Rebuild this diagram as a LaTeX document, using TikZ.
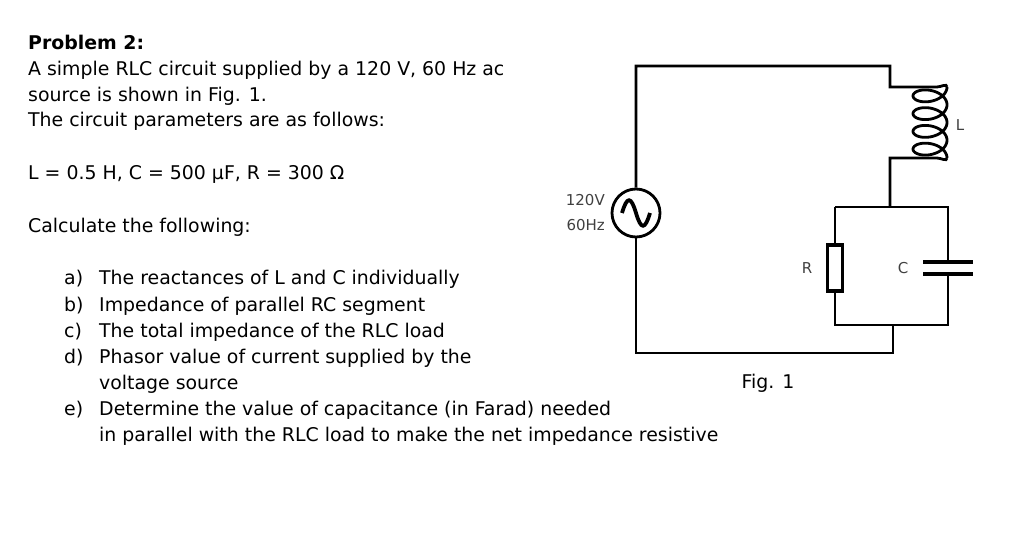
\documentclass[tikz,border=0pt]{standalone}
\usepackage{fontspec}
\setmainfont{DejaVu Sans}
\begin{document}
\begin{tikzpicture}[x=1pt,y=-1pt,
  txt/.style={anchor=base west,inner sep=0,font=\fontsize{18.9}{22}\selectfont},
  lbl/.style={inner sep=0,font=\fontsize{15}{17}\selectfont\color{black!75}},
  wire/.style={line width=2.8pt}]
\useasboundingbox (0,0) rectangle (1024,534);
\node[txt,font=\fontsize{18.9}{22}\selectfont\bfseries] (t0) at (28,50) {Problem 2:};
\node[txt] (t1) at (28,76) {A simple RLC circuit supplied by a 120 V, 60 Hz ac};
\node[txt] (t2) at (28,102) {source is shown in Fig. 1.};
\node[txt] (t3) at (28,127) {The circuit parameters are as follows:};
\node[txt] (t4) at (28,180) {L = 0.5 H, C = 500 µF, R = 300 Ω};
\node[txt] (t5) at (28,233) {Calculate the following:};
\node[txt] (a1) at (64,285) {a)}; \node[txt] (a2) at (99,285) {The reactances of L and C individually};
\node[txt] (b1) at (64,311) {b)}; \node[txt] (b2) at (99,311) {Impedance of parallel RC segment};
\node[txt] (c1) at (64,337) {c)}; \node[txt] (c2) at (99,337) {The total impedance of the RLC load};
\node[txt] (d1) at (64,363) {d)}; \node[txt] (d2) at (99,363) {Phasor value of current supplied by the};
\node[txt] (d3) at (99,389) {voltage source};
\node[txt] (e1) at (64,415) {e)}; \node[txt] (e2) at (99,415) {Determine the value of capacitance (in Farad) needed};
\node[txt] (e3) at (99,441) {in parallel with the RLC load to make the net impedance resistive};
% circuit
\node[draw,circle,line width=2.8pt,minimum size=48pt,inner sep=0] (src) at (636,213) {};
\draw[line width=3.8pt] ([xshift=-14pt]src.center) .. controls +(5,-17) and +(-5,-17) .. (src.center) .. controls +(5,17) and +(-5,17) .. ([xshift=14pt]src.center);
\coordinate (tl) at (636,66); \coordinate (tr) at (890,66);
\coordinate (l1) at (890,87); \coordinate (l2) at (890,158);
\coordinate (c1s) at (947,87); \coordinate (c1e) at (947,158);
\coordinate (pt) at (890,207); \coordinate (pb) at (893,325);
\coordinate (bl) at (636,353); \coordinate (br) at (893,353);
\node[draw,line width=3.8pt,minimum width=15pt,minimum height=46pt,inner sep=0] (res) at (835,268) {};
\draw[wire] (src.north) -- (tl) -- (tr) -- (l1) -- (937,87) to[out=0,in=90] (c1s);
\draw[wire,smooth] plot[domain=0:1440,samples=240,variable=\t] ({930+17*cos(\t)}, {87+\t*0.0493+10*sin(\t)});
\draw[wire] (c1e) to[out=-90,in=0] (937,158) -- (l2) -- (pt);
\draw[wire] (835,207) -- (948,207) -- (948,262);
\draw[wire] (948,274) -- (948,325) -- (835,325) -- (res.south);
\draw[wire] (res.north) -- (835,207);
\draw[line width=4.8pt] (923,262) -- (973,262) (923,274) -- (973,274);
\draw[wire] (pb) -- (br) -- (bl) -- (src.south);
\node[lbl] (lL) at (960,125) {L};
\node[lbl] (lR) at (807,268) {R};
\node[lbl] (lC) at (903,268) {C};
\node[lbl,anchor=east] (lV) at (605,200) {120V};
\node[lbl,anchor=east] (lF) at (605,225) {60Hz};
\node[inner sep=0,font=\fontsize{18.9}{22}\selectfont] (fig) at (768,383) {Fig. 1};
\end{tikzpicture}
\end{document}
